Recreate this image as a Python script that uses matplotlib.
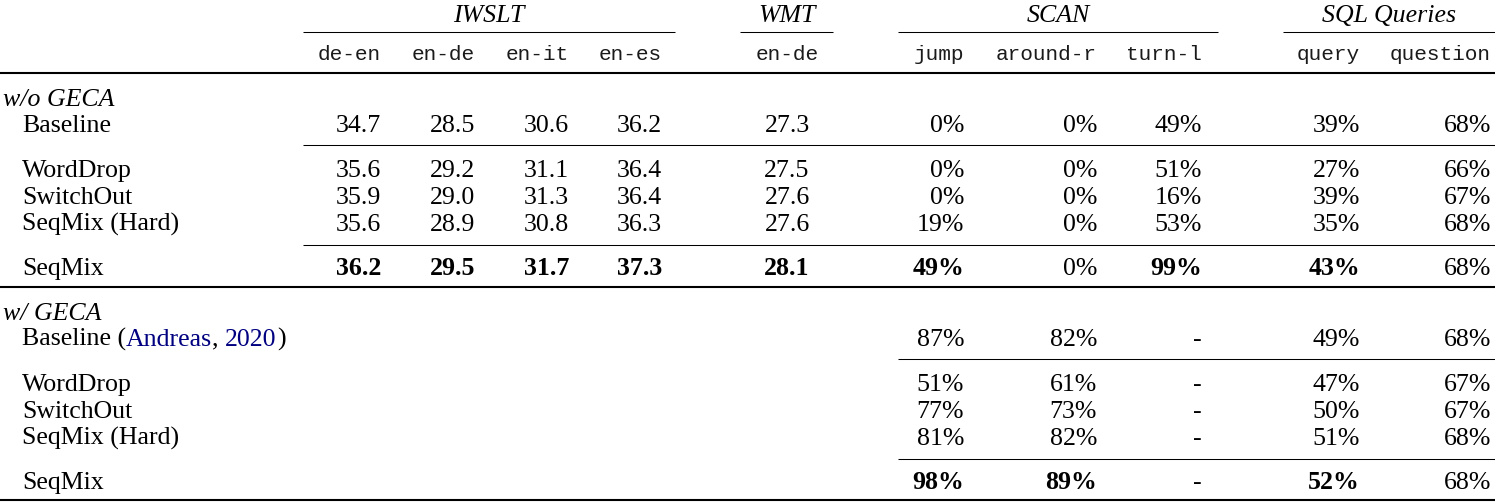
import matplotlib
matplotlib.use('Agg')
import matplotlib.pyplot as plt

# ---------------- data ----------------
groups = ['IWSLT', 'WMT', 'SCAN', 'SQL Queries']
iwslt_cols = ['de-en', 'en-de', 'en-it', 'en-es']
wmt_cols = ['en-de']
scan_cols = ['jump', 'around-r', 'turn-l']
sql_cols = ['query', 'question']

sections = ['w/o GECA', 'w/ GECA']
methods = ['Baseline', 'WordDrop', 'SwitchOut', 'SeqMix (Hard)', 'SeqMix']
cite_author = 'Andreas'
cite_year = '2020'

# w/o GECA
iwslt_wo = [[34.7, 28.5, 30.6, 36.2],
            [35.6, 29.2, 31.1, 36.4],
            [35.9, 29.0, 31.3, 36.4],
            [35.6, 28.9, 30.8, 36.3],
            [36.2, 29.5, 31.7, 37.3]]
wmt_wo = [[27.3], [27.5], [27.6], [27.6], [28.1]]
scan_wo = [[0, 0, 49], [0, 0, 51], [0, 0, 16], [19, 0, 53], [49, 0, 99]]
sql_wo = [[39, 68], [27, 66], [39, 67], [35, 68], [43, 68]]

# w/ GECA
scan_w = [[87, 82, None], [51, 61, None], [77, 73, None], [81, 82, None], [98, 89, None]]
sql_w = [[49, 68], [47, 67], [50, 67], [51, 68], [52, 68]]

# ---------------- layout ----------------
W, H = 1495, 504
fig = plt.figure(figsize=(W / 100, H / 100), dpi=100)
ax = fig.add_axes([0, 0, 1, 1])
ax.set_xlim(0, W)
ax.set_ylim(H, 0)
ax.axis('off')

SERIF = 'Liberation Serif'
MONO = 'Liberation Mono'
FS = 18.6
FS_MONO = 15.2
CAP = 8.6  # half cap height in px, baseline offset
NAVY = '#000080'
MONO_COLOR = '#1a1a1a'

iwslt_x = [381, 475, 569, 662]
wmt_x = [787]
scan_x = [964, 1097, 1202]
sql_x = [1360, 1491]

clines = [(303, 675), (740, 833), (898, 1218), (1283, 1495)]
title_cx = [489, 787, 1058, 1389]

y_title = 13
y_cline = 32
y_sub = 54
y_top = 73
sec_y = [97, 311]
row_y = [[123, 168, 195, 222, 266], [337, 382, 409, 436, 480]]
mid_lines = [[145, 245], [359, 459]]
mid_start = [303, 898]
y_mid_rule = 287
y_bottom = 500

thin = 0.75
thick = 1.5


def txt(x, y, s, ha='right', bold=False, italic=False, color='black'):
    return ax.text(x, y + CAP, s, ha=ha, va='baseline', family=SERIF,
                   fontsize=FS, fontweight='bold' if bold else 'normal',
                   fontstyle='italic' if italic else 'normal', color=color)


# group titles and clines
for g, cx, (x0, x1) in zip(groups, title_cx, clines):
    txt(cx, y_title, g, ha='center', italic=True)
    ax.plot([x0, x1], [y_cline, y_cline], color='black', lw=thin, solid_capstyle='butt')

# sub headers
for cols, xs in [(iwslt_cols, iwslt_x), (scan_cols, scan_x), (sql_cols, sql_x)]:
    for c, x in zip(cols, xs):
        ax.text(x, y_sub + 6, c, ha='right', va='baseline', family=MONO,
                fontsize=FS_MONO, color=MONO_COLOR)
for c, x in zip(wmt_cols, wmt_x):
    ax.text(x, y_sub + 6, c, ha='center', va='baseline', family=MONO,
            fontsize=FS_MONO, color=MONO_COLOR)

# rules
for y in (y_top, y_mid_rule, y_bottom):
    ax.plot([0, W], [y, y], color='black', lw=thick, solid_capstyle='butt')
for s in range(2):
    for y in mid_lines[s]:
        ax.plot([mid_start[s], W], [y, y], color='black', lw=thin, solid_capstyle='butt')


def best_flags(table):
    ncol = len(table[0])
    flags = [[False] * ncol for _ in table]
    for j in range(ncol):
        col = [r[j] for r in table]
        vals = [v for v in col if v is not None]
        if not vals:
            continue
        m = max(vals)
        if col.count(m) == 1:
            flags[col.index(m)][j] = True
    return flags


def draw_block(table, xs, ys, fmt, ha='right'):
    flags = best_flags(table)
    for i, row in enumerate(table):
        for j, v in enumerate(row):
            s = '-' if v is None else fmt(v)
            txt(xs[j], ys[i], s, ha=ha, bold=flags[i][j])


fnum = lambda v: f'{v:.1f}'
fpct = lambda v: f'{v:d}%'

draw_block(iwslt_wo, iwslt_x, row_y[0], fnum)
draw_block(wmt_wo, wmt_x, row_y[0], fnum, ha='center')
draw_block(scan_wo, scan_x, row_y[0], fpct)
draw_block(sql_wo, sql_x, row_y[0], fpct)
draw_block(scan_w, scan_x, row_y[1], fpct)
draw_block(sql_w, sql_x, row_y[1], fpct)

# section and method labels
fig.canvas.draw()
renderer = fig.canvas.get_renderer()


def text_width_px(s):
    w, _, _ = renderer.get_text_width_height_descent(
        s, matplotlib.font_manager.FontProperties(family=SERIF, size=FS), ismath=False)
    return w * 72.0 / fig.dpi * (fig.dpi / 72.0)


X_LABEL = 22
for s in range(2):
    txt(3, sec_y[s], sections[s], ha='left', italic=True)
    for i, m in enumerate(methods):
        y = row_y[s][i]
        if s == 1 and i == 0:
            pieces = [(m + ' (', 'black'), (cite_author, NAVY), (', ', 'black'),
                      (cite_year, NAVY), (')', 'black')]
            prefix = ''
            for p, col in pieces:
                x = X_LABEL + (text_width_px(prefix) if prefix else 0.0)
                txt(x, y, p, ha='left', color=col)
                prefix += p
        else:
            txt(X_LABEL, y, m, ha='left')

fig.savefig('out.png', dpi=100)
